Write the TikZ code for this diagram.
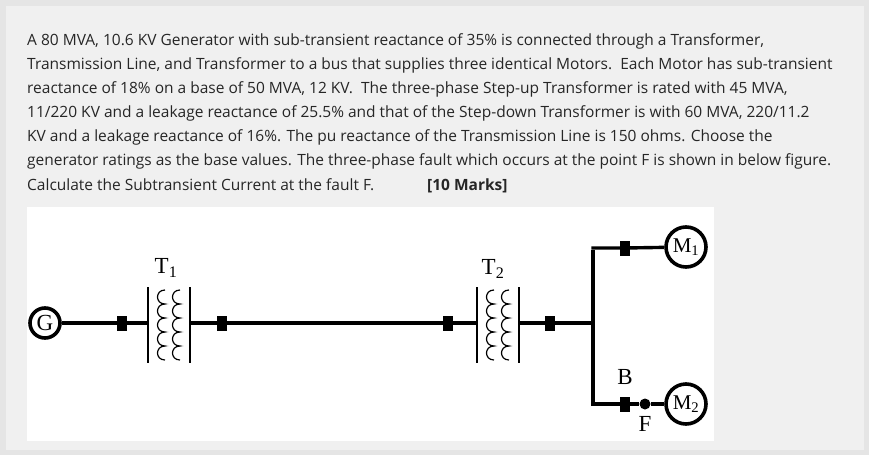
\documentclass[tikz,border=0pt]{standalone}
\usepackage{fontspec}
\setmainfont{Liberation Serif}
\newfontfamily\uifont{Open Sans}
\begin{document}
\begin{tikzpicture}[x=1pt,y=-1pt,
  txt/.style={anchor=base west,inner sep=0,font=\uifont\fontsize{15.5}{17}\selectfont,text=black!85},
  wire/.style={line width=3.4pt},
  brk/.style={fill=black,minimum width=10pt,minimum height=15pt,inner sep=0},
  mach/.style={circle,draw,line width=3.6pt,inner sep=0,minimum size=#1},
  lbl/.style={font=\fontsize{23}{25}\selectfont,inner sep=0}]
\useasboundingbox (0,0) rectangle (869,455);
\fill[black!10] (0,0) rectangle (869,455);
\fill[black!6] (6,6) rectangle (864,450);
\fill[white] (27,207) rectangle (714,441);
\node[txt] (l1) at (27,45) {A 80 MVA, 10.6 KV Generator with sub-transient reactance of 35\% is connected through a Transformer,};
\node[txt] (l2) at (27,69) {Transmission Line, and Transformer to a bus that supplies three identical Motors.\ \ Each Motor has sub-transient};
\node[txt] (l3) at (27,93) {reactance of 18\% on a base of 50 MVA, 12 KV.\ \ The three-phase Step-up Transformer is rated with 45 MVA,};
\node[txt] (l4) at (27,117) {11/220 KV and a leakage reactance of 25.5\% and that of the Step-down Transformer is with 60 MVA, 220/11.2};
\node[txt] (l5) at (27,141) {KV and a leakage reactance of 16\%. The pu reactance of the Transmission Line is 150 ohms. Choose the};
\node[txt] (l6) at (27,165) {generator ratings as the base values. The three-phase fault which occurs at the point F is shown in below figure.};
\node[txt] (l7) at (27,190) {Calculate the Subtransient Current at the fault F.};
\node[txt,font=\uifont\bfseries\fontsize{15.5}{17}\selectfont] (l8) at (427,190) {[10 Marks]};
% diagram
\node[mach=30pt,lbl] (G) at (45,323) {G};
\node[brk] (s1) at (122,323) {};
\node[brk] (s2) at (222,323) {};
\node[brk] (s3) at (448,323) {};
\node[brk] (s4) at (550,323) {};
\coordinate (J) at (593,323);
\coordinate (Jt) at (593,250);
\coordinate (Jb) at (593,404);
\node[brk] (s5) at (625,248) {};
\node[brk] (s6) at (625,404) {};
\node[circle,fill=black,minimum size=11pt,inner sep=0] (F) at (645,404) {};
\node[mach=40pt,lbl,font=\fontsize{21}{23}\selectfont] (M1) at (686,247) {M\textsubscript{1}};
\node[mach=40pt,lbl,font=\fontsize{21}{23}\selectfont] (M2) at (686,404) {M\textsubscript{2}};
\node[lbl] (T1) at (166,268) {T\textsubscript{1}};
\node[lbl] (T2) at (493,269) {T\textsubscript{2}};
\node[lbl] (B) at (625,377) {B};
\node[lbl] (Fl) at (645,424) {F};
\draw[wire] (G) -- (s1) -- (148,323);
\draw[wire] (190,323) -- (s2) -- (s3) -- (477,323);
\draw[wire] (519,323) -- (s4) -- (J);
\draw[wire] (Jt) -- (Jb);
\draw[wire] (591.3,248) -- (s5) -- (M1);
\draw[wire] (591.3,404) -- (s6) -- (F) -- (M2);
% transformers
\foreach \xl/\xr in {148/190, 477/519}{
  \draw[line width=1.8pt] (\xl,287) -- (\xl,363);
  \draw[line width=1.8pt] (\xr,287) -- (\xr,363);
  \foreach \c in {0,1}{
    \pgfmathsetmacro{\cx}{\xl+17+\c*15}
    \draw[line width=1.2pt] (\cx,290) \foreach \k in {0,...,4}{ .. controls +(-10,0) and +(-10,0) .. ++(0,14) } ;
  }
}
\end{tikzpicture}
\end{document}
